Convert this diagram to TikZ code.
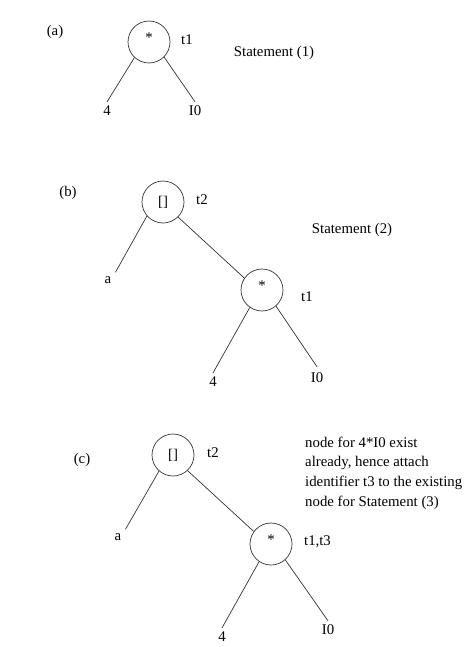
\documentclass[tikz,border=0pt]{standalone}
\usepackage{fontspec}
\setmainfont{Liberation Serif}
\begin{document}
\begin{tikzpicture}[x=1pt,y=-1pt,
  every node/.style={font=\fontsize{14.8}{19.7}\selectfont},
  opnode/.style={draw=black!80, line width=0.7pt, circle, minimum size=42pt, inner sep=0pt},
  leaf/.style={inner sep=4pt},
  lbl/.style={inner sep=0pt},
  edge/.style={draw=black!80, line width=0.7pt}]
\useasboundingbox (0,0) rectangle (471,647);
% ---------- (a)
\node[lbl] (pa) at (55,32) {(a)};
\node[opnode] (a1) at (149,42) {};
\node[lbl] at (149,38) {*};
\node[lbl] (ta1) at (187,40) {t1};
\node[lbl] (sa) at (274,53) {Statement (1)};
\node[leaf] (a4) at (107,111) {4};
\node[leaf] (ai) at (195,111) {I0};
\draw[edge] (a1.227) -- (a4.north);
\draw[edge] (a1.315) -- (ai.north);
% ---------- (b)
\node[lbl] (pb) at (68,193) {(b)};
\node[opnode] (b1) at (163,202) {[]};
\node[lbl] (tb2) at (202,200) {t2};
\node[lbl] (sb) at (352,230) {Statement (2)};
\node[leaf] (ba) at (108,280) {a};
\node[opnode] (b2) at (262,290) {};
\node[lbl] at (262,286) {*};
\node[lbl] (tb1) at (307,297) {t1};
\node[leaf] (b4) at (213,382) {4};
\node[leaf,inner sep=6pt] (bi) at (317,378) {I0};
\draw[edge] (b1.221) -- (ba.north east);
\draw[edge] (b1.315) -- (b2.146);
\draw[edge] (b2.235) -- (b4.north);
\draw[edge] (b2.311) -- (bi.north);
% ---------- (c)
\node[lbl] (pc) at (82,460) {(c)};
\node[opnode] (c1) at (173,455) {[]};
\node[lbl] (tc2) at (213,453) {t2};
\node[lbl, anchor=north west, align=left] (sc) at (305,436.5)
  {node for 4*I0 exist\\already, hence attach\\identifier t3 to the existing\\node for Statement (3)};
\node[leaf] (ca) at (118,537) {a};
\node[opnode] (c2) at (271,544) {};
\node[lbl] at (271,540) {*};
\node[lbl] (tc1) at (317.5,542) {t1,t3};
\node[leaf] (c4) at (222,637) {4};
\node[leaf] (ci) at (328,630) {I0};
\draw[edge] (c1.229) -- (ca.north east);
\draw[edge] (c1.313) -- (c2.144);
\draw[edge] (c2.236) -- (c4.north);
\draw[edge] (c2.312) -- (ci.north);
\end{tikzpicture}
\end{document}
